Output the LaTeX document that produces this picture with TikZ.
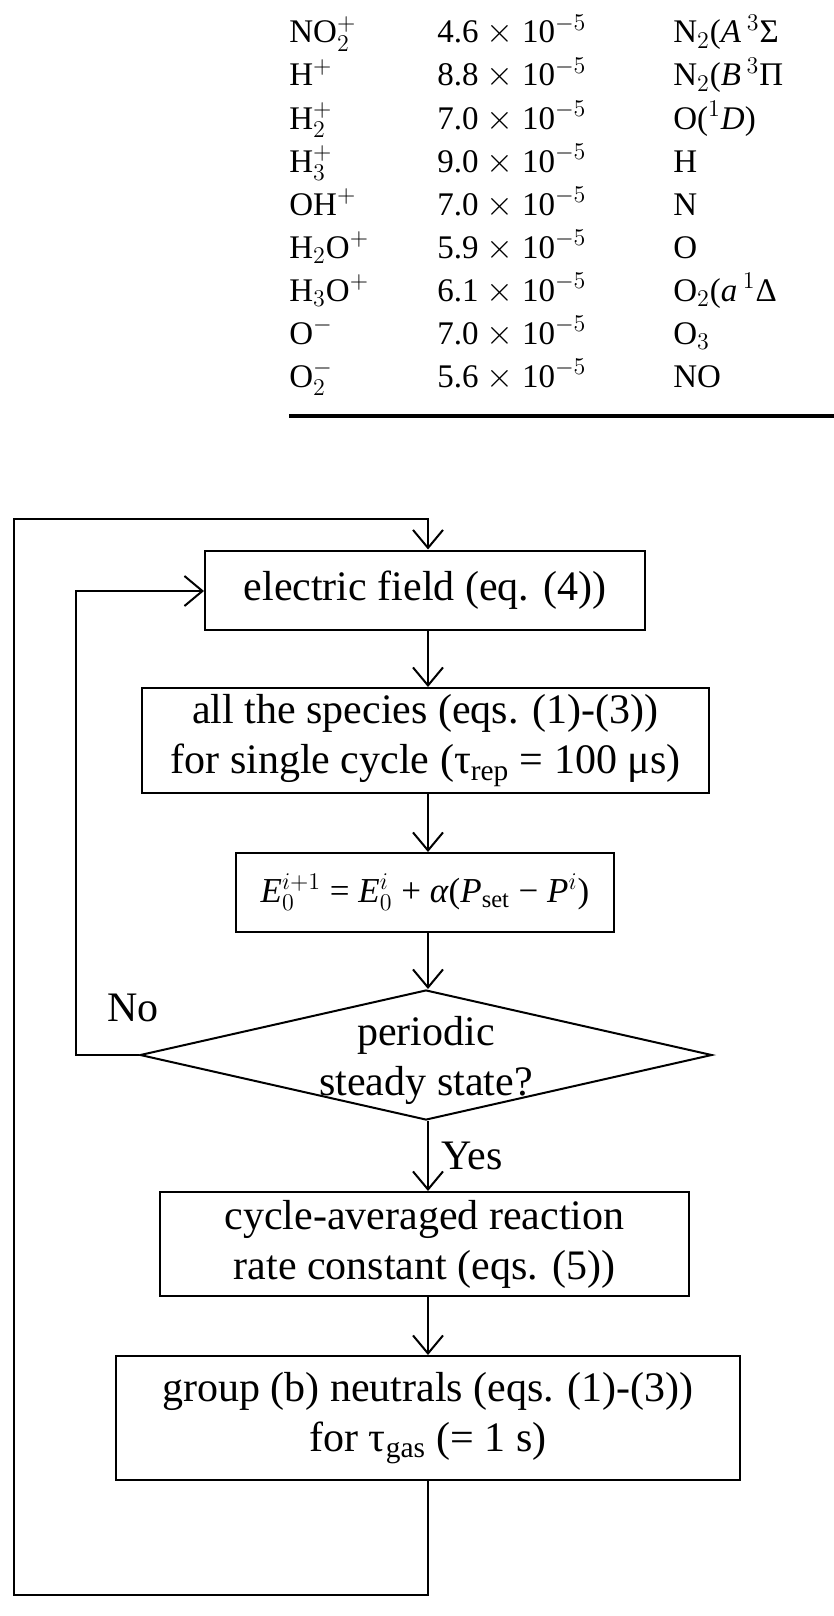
\documentclass[tikz,border=0pt]{standalone}
\usepackage{fontspec}
\setmainfont{Liberation Serif}
\usetikzlibrary{arrows.meta,shapes.geometric}
\begin{document}
\begin{tikzpicture}[x=0.5pt,y=-0.5pt,
  every node/.style={font=\fontsize{21}{25}\selectfont},
  box/.style={draw,line width=1pt,inner sep=0pt},
  tab/.style={anchor=base west,inner sep=0pt,font=\fontsize{16.5}{19}\selectfont},
  arr/.style={line width=1pt,-{Straight Barb[length=9pt,width=15pt,line width=1pt]}},
  ln/.style={line width=1pt}]
\begin{scope}
\clip (0,0) rectangle (834,1616);
% table fragment
\foreach \a/\b/\c [count=\i] in {NO$_2^+$/4.6/N$_2$(\textit{A}\,$^3$Σ,
  H$^+$/8.8/N$_2$(\textit{B}\,$^3$Π,
  H$_2^+$/7.0/O($^1$\textit{D}),
  H$_3^+$/9.0/H,
  OH$^+$/7.0/N,
  H$_2$O$^+$/5.9/O,
  H$_3$O$^+$/6.1/O$_2$(\textit{a}\,$^1$Δ,
  O$^-$/7.0/O$_3$,
  O$_2^-$/5.6/NO}{
  \node[tab] (ta\i) at (289,{43*\i}) {\a};
  \node[tab] (tb\i) at (437,{43*\i}) {\b\ $\times$ 10$^{-5}$};
  \node[tab] (tc\i) at (673,{43*\i}) {\c};
}
\draw[line width=2pt] (289,416) -- (834,416);
\end{scope}
% flowchart
\node[box,minimum width=220pt,minimum height=39.5pt] (b1) at (425,590) {electric field (eq. (4))};
\node[box,minimum width=283.5pt,minimum height=52.5pt,align=center] (b2) at (425.5,740.5) {all the species (eqs. (1)-(3))\\for single cycle (τ\textsubscript{rep} = 100 μs)};
\node[box,minimum width=189pt,minimum height=39.5pt,font=\fontsize{17.5}{20}\selectfont] (b3) at (425,892.5) {\textit{E}$_0^{i+1}$ = \textit{E}$_0^{i}$ + \textit{α}(\textit{P}\textsubscript{set} − \textit{P}$^{i}$)};
\node[diamond,draw,line width=1pt,minimum width=286pt,minimum height=65pt,inner sep=0pt] (d) at (426,1055) {};
\node[align=center,inner sep=0pt] (dt) at (426,1060) {periodic\\steady state?};
\node[box,minimum width=264.5pt,minimum height=52pt,align=center] (b4) at (424.5,1244) {cycle-averaged reaction\\rate constant (eqs. (5))};
\node[box,minimum width=312pt,minimum height=62pt,align=center] (b5) at (428,1418) {group (b) neutrals (eqs. (1)-(3))\\for τ\textsubscript{gas} (= 1 s)};
\coordinate (c1) at (428,1595);
\coordinate (c2) at (14,1595);
\coordinate (c3) at (14,519);
\coordinate (c4) at (428,519);
\coordinate (n1) at (76,1055);
\coordinate (n2) at (76,591);
\draw[arr] (b1.south -| 428,0) -- (b2.north -| 428,0);
\draw[arr] (b2.south -| 428,0) -- (b3.north -| 428,0);
\draw[arr] (b3.south -| 428,0) -- (d.north -| 428,0);
\draw[arr] (d.south -| 428,0) -- node[right=3pt] {Yes} (b4.north -| 428,0);
\draw[arr] (b4.south -| 428,0) -- (b5.north -| 428,0);
\draw[arr] (b5.south -| 428,0) -- (c1) -- (c2) -- (c3) -- (c4) -- (b1.north -| 428,0);
\draw[arr] (d.west) -- (n1) -- (n2) -- (b1.west |- n2);
\node (no) at (133,1008) {No};
\pgfresetboundingbox
\useasboundingbox (0,0) rectangle (834,1616);
\end{tikzpicture}
\end{document}
